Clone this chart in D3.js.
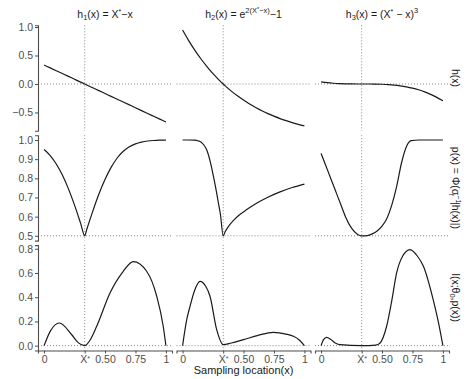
<!DOCTYPE html>
<html>
<head>
<meta charset="utf-8">
<script src="https://cdn.jsdelivr.net/npm/d3@7"></script>
<style>
  body { margin: 0; background: #fff; }
  text { font-family: "Liberation Sans", Arial, sans-serif; }
</style>
</head>
<body>
<div id="chart"></div>
<script>
// sampling grid shared by the first two rows
let xGrid = [0, 0.05, 0.1, 0.15, 0.2, 0.25, 0.3, 0.3333, 0.35, 0.4, 0.45, 0.5, 0.55, 0.6, 0.65, 0.7, 0.75, 0.8, 0.85, 0.9, 0.95, 1];

// row 1: h(x)
let h1Values = [0.333, 0.283, 0.233, 0.183, 0.133, 0.083, 0.033, 0, -0.017, -0.067, -0.117, -0.167, -0.217, -0.267, -0.317, -0.367, -0.417, -0.467, -0.517, -0.567, -0.617, -0.667];
let h2Values = [0.948, 0.762, 0.595, 0.443, 0.306, 0.181, 0.069, 0, -0.033, -0.125, -0.208, -0.283, -0.352, -0.413, -0.469, -0.520, -0.565, -0.607, -0.644, -0.678, -0.709, -0.736];
let h3Values = [0.037, 0.0227, 0.0127, 0.0062, 0.0024, 0.0006, 0.00004, 0, -0.00001, -0.0003, -0.0016, -0.0046, -0.0102, -0.019, -0.0317, -0.0494, -0.0723, -0.1017, -0.138, -0.1821, -0.2347, -0.2963];

// row 2: p(x)
let p1Values = [0.950, 0.919, 0.875, 0.817, 0.745, 0.660, 0.565, 0.5, 0.533, 0.629, 0.718, 0.794, 0.857, 0.906, 0.941, 0.965, 0.980, 0.989, 0.9946, 0.9974, 0.9988, 0.9995];
let p2X = [0, 0.05, 0.1, 0.13, 0.15, 0.175, 0.2, 0.23, 0.25, 0.27, 0.3, 0.31, 0.3333, 0.35, 0.38, 0.42, 0.46, 0.53, 0.6, 0.7, 0.8, 0.9, 1];
let p2Values = [1.0, 1.0, 0.999, 0.995, 0.99, 0.974, 0.945, 0.879, 0.82, 0.757, 0.65, 0.615, 0.5, 0.522, 0.552, 0.582, 0.606, 0.638, 0.667, 0.701, 0.729, 0.752, 0.77];
let p3X = [0, 0.04, 0.08, 0.12, 0.16, 0.2, 0.25, 0.3, 0.3333, 0.38, 0.42, 0.46, 0.5, 0.54, 0.58, 0.62, 0.66, 0.7, 0.74, 0.8, 0.9, 1];
let p3Values = [0.93, 0.864, 0.798, 0.732, 0.666, 0.6, 0.54, 0.507, 0.5, 0.501, 0.51, 0.525, 0.55, 0.59, 0.66, 0.757, 0.88, 0.965, 0.997, 1.0, 1.0, 1.0];

// row 3: l(x; theta0, p(x))
let l1X = [0, 0.05, 0.126, 0.227, 0.28, 0.3333, 0.38, 0.432, 0.541, 0.65, 0.732, 0.842, 0.924, 0.978, 1];
let l1Values = [0, 0.118, 0.187, 0.09, 0.025, 0, 0.05, 0.16, 0.435, 0.614, 0.694, 0.614, 0.41, 0.16, 0];
let l2X = [0, 0.034, 0.061, 0.1, 0.143, 0.19, 0.225, 0.28, 0.3333, 0.4, 0.5, 0.62, 0.745, 0.85, 0.91, 0.96, 1];
let l2Values = [0, 0.215, 0.325, 0.46, 0.531, 0.49, 0.408, 0.132, 0.008, 0.022, 0.05, 0.085, 0.11, 0.095, 0.077, 0.045, 0];
let l3X = [0, 0.02, 0.046, 0.08, 0.12, 0.156, 0.3333, 0.45, 0.48, 0.538, 0.58, 0.62, 0.67, 0.73, 0.79, 0.84, 0.92, 0.97, 1];
let l3Values = [0, 0.05, 0.069, 0.05, 0.02, 0.008, 0, 0.005, 0.017, 0.16, 0.37, 0.6, 0.74, 0.793, 0.74, 0.655, 0.38, 0.16, 0];

let xStar = 0.3333;
let xTicks = [0, xStar, 0.5, 0.75, 1];
let xTickLabels = ["0", "X*", "0.50", "0.75", "1"];
let yTicks = [[-0.5, 0, 0.5, 1], [0.5, 0.6, 0.7, 0.8, 0.9, 1], [0, 0.2, 0.4, 0.6, 0.8]];
let yDomains = [[-0.82, 1.03], [0.475, 1.025], [-0.04, 0.83]];
let refLines = [0, 0.5, 0];

let panels = [
  [{ x: xGrid, y: h1Values }, { x: xGrid, y: h2Values }, { x: xGrid, y: h3Values }],
  [{ x: xGrid, y: p1Values }, { x: p2X, y: p2Values }, { x: p3X, y: p3Values }],
  [{ x: l1X, y: l1Values }, { x: l2X, y: l2Values }, { x: l3X, y: l3Values }]
];

let width = 474, height = 379;
let marginLeft = 38, marginTop = 25.3, panelW = 134, panelH = 105.4, gap = 4.5;
let axisColor = "#4d4d4d";

let svg = d3.select("#chart")
  .append("svg")
  .attr("width", width)
  .attr("height", height);

let x = d3.scaleLinear().domain([-0.05, 1.05]).range([0, panelW]);

function styleAxis(ax) {
  ax.select(".domain").attr("stroke", axisColor).attr("stroke-width", 1.1);
  ax.selectAll(".tick line").attr("stroke", axisColor);
  ax.selectAll(".tick text").attr("fill", axisColor).attr("font-size", "10.5px")
    .attr("font-family", "Liberation Sans, Arial, sans-serif");
}

panels.forEach(function (row, r) {
  let y = d3.scaleLinear().domain(yDomains[r]).range([panelH, 0]);
  row.forEach(function (d, c) {
    let g = svg.append("g")
      .attr("transform", "translate(" + (marginLeft + c * (panelW + gap)) + "," + (marginTop + r * (panelH + gap)) + ")");

    // dotted reference lines
    g.append("line")
      .attr("x1", 0).attr("x2", panelW)
      .attr("y1", y(refLines[r])).attr("y2", y(refLines[r]))
      .attr("stroke", "#888").attr("stroke-width", 1).attr("stroke-dasharray", "1,2");
    g.append("line")
      .attr("x1", x(xStar)).attr("x2", x(xStar))
      .attr("y1", 0).attr("y2", panelH)
      .attr("stroke", "#888").attr("stroke-width", 1).attr("stroke-dasharray", "1,2");

    let pts = d.x.map(function (v, i) { return [v, d.y[i]]; });
    g.append("path")
      .datum(pts)
      .attr("fill", "none")
      .attr("stroke", "#1a1a1a")
      .attr("stroke-width", 1.2)
      .attr("d", d3.line()
        .x(function (p) { return x(p[0]); })
        .y(function (p) { return y(p[1]); })
        .curve(d3.curveMonotoneX));

    if (c === 0) {
      let ax = g.append("g")
        .call(d3.axisLeft(y).tickValues(yTicks[r]).tickSize(3).tickPadding(2)
          .tickFormat(d3.format(".1f")));
      styleAxis(ax);
    }
    if (r === 2) {
      let ax = g.append("g")
        .attr("transform", "translate(0," + panelH + ")")
        .call(d3.axisBottom(x).tickValues(xTicks).tickSize(3).tickPadding(2)
          .tickFormat(function (v, i) { return xTickLabels[i]; }));
      styleAxis(ax);
      ax.selectAll(".tick text").filter(function (v, i) { return i === 1; })
        .text("X").append("tspan").attr("dy", "-0.35em").attr("font-size", "7px").text("*");
    }
  });
});

// column strip titles
let stripY = 18;
function colCenter(c) { return marginLeft + c * (panelW + gap) + panelW / 2; }

let t1 = svg.append("text").attr("x", colCenter(0)).attr("y", stripY).attr("text-anchor", "middle")
  .attr("font-size", "10.5px").attr("fill", "#1a1a1a");
t1.append("tspan").text("h");
t1.append("tspan").attr("font-size", "7.5px").attr("dy", "2").text("1");
t1.append("tspan").attr("dy", "-2").text("(x) = X");
t1.append("tspan").attr("font-size", "7px").attr("dy", "-4").text("*");
t1.append("tspan").attr("dy", "4").text("\u2212x");

let t2 = svg.append("text").attr("x", colCenter(1)).attr("y", stripY).attr("text-anchor", "middle")
  .attr("font-size", "10.5px").attr("fill", "#1a1a1a");
t2.append("tspan").text("h");
t2.append("tspan").attr("font-size", "7.5px").attr("dy", "2").text("2");
t2.append("tspan").attr("dy", "-2").text("(x) = e");
t2.append("tspan").attr("font-size", "7.5px").attr("dy", "-5").text("2(X");
t2.append("tspan").attr("font-size", "5.5px").attr("dy", "-2").text("*");
t2.append("tspan").attr("font-size", "7.5px").attr("dy", "2").text("\u2212x)");
t2.append("tspan").attr("dy", "5").text("\u22121");

let t3 = svg.append("text").attr("x", colCenter(2)).attr("y", stripY).attr("text-anchor", "middle")
  .attr("font-size", "10.5px").attr("fill", "#1a1a1a");
t3.append("tspan").text("h");
t3.append("tspan").attr("font-size", "7.5px").attr("dy", "2").text("3");
t3.append("tspan").attr("dy", "-2").text("(x) = (X");
t3.append("tspan").attr("font-size", "7px").attr("dy", "-4").text("*");
t3.append("tspan").attr("dy", "4").text(" \u2212 x)");
t3.append("tspan").attr("font-size", "7.5px").attr("dy", "-5").text("3");

// row strip titles (rotated, reading top to bottom)
let stripX = 452;
function rowCenter(r) { return marginTop + r * (panelH + gap) + panelH / 2; }

let s1 = svg.append("text").attr("transform", "translate(" + stripX + "," + rowCenter(0) + ") rotate(90)")
  .attr("text-anchor", "middle").attr("font-size", "10.5px").attr("fill", "#1a1a1a");
s1.append("tspan").text("h(x)");

let s2 = svg.append("text").attr("transform", "translate(" + stripX + "," + rowCenter(1) + ") rotate(90)")
  .attr("text-anchor", "middle").attr("font-size", "10.5px").attr("fill", "#1a1a1a");
s2.append("tspan").text("p(x) = \u03A6(\u03C3");
s2.append("tspan").attr("font-size", "7.5px").attr("dy", "-4").text("\u22121");
s2.append("tspan").attr("font-size", "7.5px").attr("dx", "-10").attr("dy", "7").text("f");
s2.append("tspan").attr("dx", "6").attr("dy", "-3").text("|h(x)|)");

let s3 = svg.append("text").attr("transform", "translate(" + stripX + "," + rowCenter(2) + ") rotate(90)")
  .attr("text-anchor", "middle").attr("font-size", "10.5px").attr("fill", "#1a1a1a");
s3.append("tspan").text("l(x;\u03B8");
s3.append("tspan").attr("font-size", "7.5px").attr("dy", "2").text("0");
s3.append("tspan").attr("dy", "-2").text(",p(x))");

// x axis title
svg.append("text")
  .attr("x", marginLeft + (3 * panelW + 2 * gap) / 2)
  .attr("y", 374)
  .attr("text-anchor", "middle")
  .attr("font-size", "11px")
  .attr("fill", "#1a1a1a")
  .text("Sampling location(x)");
</script>
</body>
</html>
